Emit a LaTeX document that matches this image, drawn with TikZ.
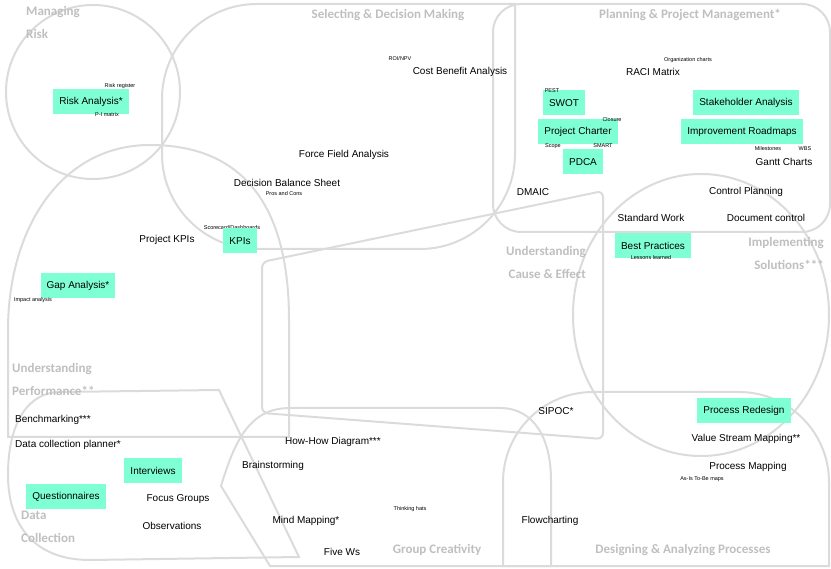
\documentclass[tikz,border=0pt]{standalone}
\usepackage{fontspec}
\setmainfont{Liberation Sans}
\newfontfamily\ttl{Carlito}
\begin{document}
\begin{tikzpicture}[x=1pt,y=-1pt,
  area/.style={draw=black!14,line width=2pt},
  t/.style={font=\fontsize{10}{12}\selectfont,inner sep=2pt},
  hb/.style={t,fill=cyan!20!green!50!white,fill=aquamarine,minimum height=25pt,inner xsep=7pt},
  s/.style={font=\fontsize{5.5}{6}\selectfont,inner sep=0pt},
  title/.style={font=\ttl\bfseries\fontsize{13}{23}\selectfont,text=black!25,inner sep=0pt,align=left}]
\definecolor{aquamarine}{HTML}{7FFFD4}
\tikzset{hb/.style={t,fill=aquamarine,minimum height=25pt,inner xsep=6pt}}
\useasboundingbox (0,0) rectangle (831,569);
% background areas
\draw[area] (93,92) ellipse [x radius=87, y radius=87];
\draw[area,rounded corners=95pt] (515,4) -- (162,4) -- (162,249) -- (515,249) [sharp corners] -- cycle;
\draw[area,rounded corners=28pt] (493,4) rectangle (830,232);
\draw[area] (289,437) -- (289,320) .. controls (289,190) and (230,145) .. (150,145) .. controls (60,145) and (8,230) .. (8,330) -- (8,437) -- cycle;
\draw[area] (219,390) -- (299,557) -- (90,560) .. controls (30,560) and (8,520) .. (8,475) .. controls (8,420) and (30,392) .. (60,392) -- cycle;
\draw[area] (221,486) .. controls (235,440) and (250,408) .. (290,408) -- (500,408) .. controls (535,408) and (551,440) .. (551,480) -- (551,566) -- (270,566) -- cycle;
\draw[area,rounded corners=6pt] (262,413) -- (262,262) -- (603,191) -- (603,439) -- cycle;
\draw[area] (701,315) ellipse [x radius=128, y radius=141];
\draw[area,rounded corners=90pt] (503,566) -- (503,392) -- (829,392) [sharp corners] -- (829,566) -- cycle;
% titles
\node[title,anchor=north west] (tr) at (26,6) {Managing\\Risk};
\node[title] (tsd) at (388,15) {Selecting \& Decision Making};
\node[title] (tpp) at (690,15) {Planning \& Project Management*};
\node[title,align=right,anchor=north east] (tce) at (586,246) {Understanding\\Cause \& Effect};
\node[title,align=right,anchor=north east] (tis) at (824,237) {Implementing\\Solutions***};
\node[title,anchor=north west] (tup) at (12,363) {Understanding\\Performance**};
\node[title,anchor=north west] (tdc) at (21,511) {Data\\Collection};
\node[title] (tgc) at (437,550) {Group Creativity};
\node[title] (tdp) at (683,550) {Designing \& Analyzing Processes};
% items
\node[hb] (ra) at (91,102) {Risk Analysis*};
\node[s] (rr) at (120,86) {Risk register};
\node[s] (pi) at (107,115) {P-I matrix};
\node[s] (roi) at (400,59) {ROI/NPV};
\node[t] (cba) at (460,72) {Cost Benefit Analysis};
\node[s] (oc) at (688,60) {Organization charts};
\node[t] (raci) at (653,72) {RACI Matrix};
\node[hb] (swot) at (564,103) {SWOT};
\node[s] (pest) at (552,91) {PEST};
\node[hb] (sa) at (746,103) {Stakeholder Analysis};
\node[hb] (pc) at (578,132) {Project Charter};
\node[hb] (ir) at (742,132) {Improvement Roadmaps};
\node[s] (cl) at (612,120) {Closure};
\node[s] (sc) at (553,146) {Scope};
\node[s] (sm) at (603,146) {SMART};
\node[hb] (pdca) at (583,162) {PDCA};
\node[s] (ms) at (768,149) {Milestones};
\node[s] (wbs) at (805,149) {WBS};
\node[t] (gc) at (784,162) {Gantt Charts};
\node[t] (ffa) at (344,155) {Force Field Analysis};
\node[t] (dbs) at (287,183) {Decision Balance Sheet};
\node[s] (pac) at (284,194) {Pros and Cons};
\node[t] (dm) at (533,192) {DMAIC};
\node[t] (cp) at (746,192) {Control Planning};
\node[t] (sw) at (651,218) {Standard Work};
\node[t] (dc) at (766,218) {Document control};
\node[s] (sd) at (232,228) {Scorecard/Dashboards};
\node[t] (pk) at (167,240) {Project KPIs};
\node[hb] (kpi) at (240,241) {KPIs};
\node[hb] (bp) at (653,246) {Best Practices};
\node[s] (ll) at (651,258) {Lessons learned};
\node[hb] (ga) at (78,286) {Gap Analysis*};
\node[s] (ia) at (33,300) {Impact analysis};
\node[t,anchor=west] (bm) at (13,420) {Benchmarking***};
\node[t,anchor=west] (dcp) at (13,445) {Data collection planner*};
\node[t] (sip) at (556,411) {SIPOC*};
\node[hb] (pr) at (744,411) {Process Redesign};
\node[t] (hh) at (333,442) {How-How Diagram***};
\node[t] (vsm) at (746,439) {Value Stream Mapping**};
\node[t] (bs) at (273,466) {Brainstorming};
\node[hb] (iv) at (153,471) {Interviews};
\node[t] (pm) at (748,467) {Process Mapping};
\node[s] (ab) at (702,479) {As-Is To-Be maps};
\node[hb] (qn) at (66,497) {Questionnaires};
\node[t] (fg) at (178,499) {Focus Groups};
\node[t] (ob) at (172,526) {Observations};
\node[s] (th) at (410,509) {Thinking hats};
\node[t] (mm) at (306,521) {Mind Mapping*};
\node[t] (fc) at (550,521) {Flowcharting};
\node[t] (fw) at (342,552) {Five Ws};
\end{tikzpicture}
\end{document}
